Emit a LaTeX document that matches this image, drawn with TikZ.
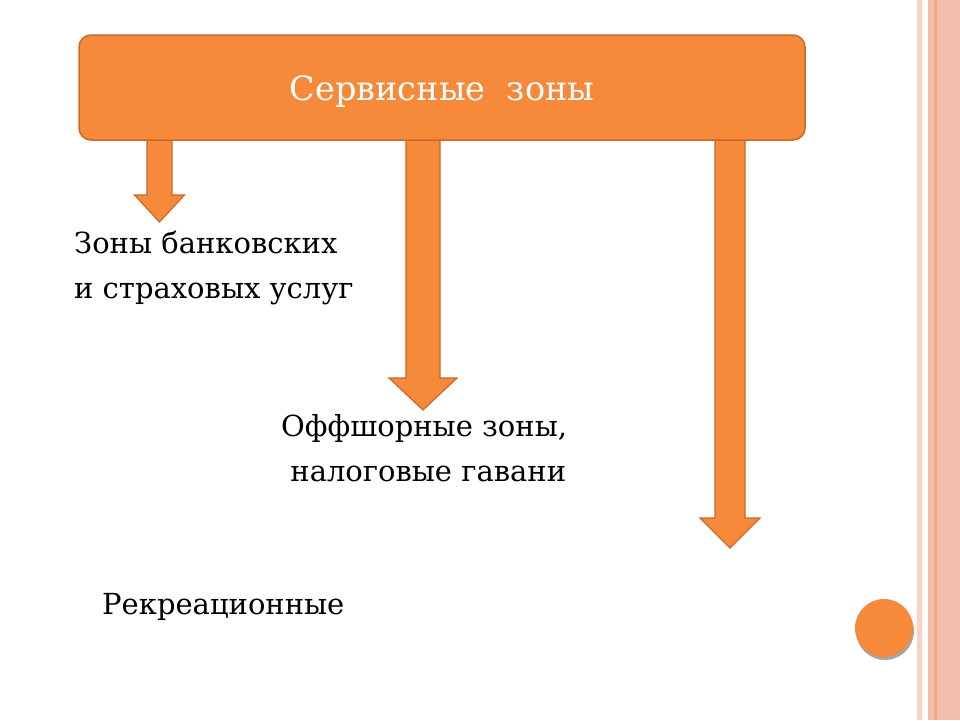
\documentclass[tikz,border=0pt]{standalone}
\usepackage{fontspec}
\setmainfont{DejaVu Serif}
\usetikzlibrary{positioning}
\definecolor{zonefill}{HTML}{F68A3A}
\definecolor{zoneedge}{HTML}{C9692C}
\definecolor{stripe}{HTML}{F2BFAD}
\definecolor{stripelt}{HTML}{F9D2C2}
\definecolor{stripedk}{HTML}{EFA98D}
\tikzset{
  blockarrow/.style={fill=zonefill, draw=zoneedge, line width=1.2pt, line join=miter},
  label/.style={font=\fontsize{29}{45}\selectfont, align=left, inner sep=0pt}
}
\newcommand{\blockarr}[5]{% x, top, shaft end, tip, half width
  \draw[blockarrow] (#1-#5,#2) -- (#1+#5,#2) -- (#1+#5,#3) -- (#1+2*#5,#3) -- (#1,#4)
    -- (#1-2*#5,#3) -- (#1-#5,#3) -- cycle;}

\begin{document}
\begin{tikzpicture}[x=1pt,y=-1pt]
  \useasboundingbox (0,0) rectangle (960,720);
  \fill[white] (0,0) rectangle (960,720);
  % Border stripes
  \fill[stripelt] (917,0) rectangle (922,720);
  \fill[stripe] (928,0) rectangle (960,720);
  \fill[stripedk] (934,0) rectangle (937,720);

  % Arrows
  \blockarr{159.5}{139}{195}{222}{12.5}
  \blockarr{423}{139}{378}{410}{17}
  \blockarr{730}{139}{518}{548}{15}

  % Title box
  \node[fill=zonefill, draw=zoneedge, line width=1.5pt, rounded corners=12pt,
        minimum width=726pt, minimum height=105pt] (zones) at (442,87.5) {};
  \node[text=white, font=\fontsize{33.5}{40}\selectfont] (title) at (442,92) {Сервисные\ \ зоны};

  % Labels
  \node[label, anchor=base west] (bank) at (74,298) {Зоны банковских\\и страховых услуг};
  \node[label, anchor=base west] (offshore) at (281,481) {Оффшорные зоны,\\\ налоговые гавани};
  \node[label, anchor=base west] (recreation) at (102,614) {Рекреационные};

  % Corner dot
  \fill[gray!70] (885,631) circle (29);
  \fill[zonefill] (884,628) circle (29);
\end{tikzpicture}
\end{document}
